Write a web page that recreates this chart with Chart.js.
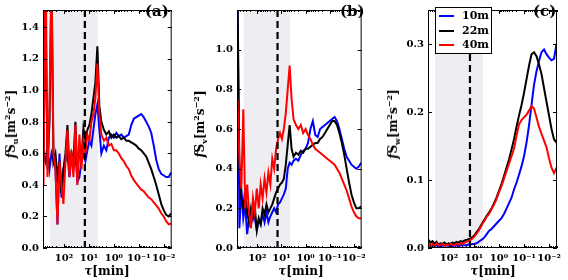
<!DOCTYPE html>
<html>
<head>
<meta charset="utf-8">
<script src="https://cdn.jsdelivr.net/npm/chart.js@4.4.0/dist/chart.umd.min.js"></script>
<style>
  body { margin: 0; background: #fff; }
  #wrap { position: relative; width: 568px; height: 280px; overflow: hidden;
          font-family: "DejaVu Serif", serif; font-weight: bold; color: #000; }
  canvas { position: absolute; top: 0; }
  .ytitle { position: absolute; top: 124px; font-size: 12px; white-space: nowrap;
            transform: translate(-50%, -50%) rotate(-90deg); }
  .xtitle { position: absolute; top: 264px; font-size: 12px; white-space: nowrap;
            transform: translateX(-50%); }
  sub, sup { font-size: 8px; line-height: 0; }
  .tag { position: absolute; top: 4px; font-size: 15px; line-height: 15px; }
  .legend { position: absolute; left: 435px; top: 7px; width: 57px; height: 47px;
            border: 1px solid #000; background: #fff; box-sizing: border-box; font-size: 11px; }
  .legend div { position: absolute; left: 3px; height: 14px; line-height: 14px; white-space: nowrap; }
  .legend span { display: inline-block; width: 15px; height: 2px; vertical-align: middle; margin-right: 8px; }
</style>
</head>
<body>
<div id="wrap">
  <canvas id="pa" width="180" height="280" style="left:0px"></canvas>
  <canvas id="pb" width="180" height="280" style="left:190px"></canvas>
  <canvas id="pc" width="188" height="280" style="left:380px"></canvas>

  <div class="ytitle" style="left:11px"><i>f</i>S<sub>u</sub>[m<sup>2</sup>s<sup>−2</sup>]</div>
  <div class="ytitle" style="left:200px"><i>f</i>S<sub>v</sub>[m<sup>2</sup>s<sup>−2</sup>]</div>
  <div class="ytitle" style="left:393px"><i>f</i>S<sub>w</sub>[m<sup>2</sup>s<sup>−2</sup>]</div>

  <div class="xtitle" style="left:107px"><i>τ</i>[min]</div>
  <div class="xtitle" style="left:301px"><i>τ</i>[min]</div>
  <div class="xtitle" style="left:493px"><i>τ</i>[min]</div>

  <div class="tag" style="left:145px">(a)</div>
  <div class="tag" style="left:340px">(b)</div>
  <div class="tag" style="left:533px">(c)</div>

  <div class="legend">
    <div style="top:1px"><span style="background:#0000ff"></span>10m</div>
    <div style="top:16px"><span style="background:#000"></span>22m</div>
    <div style="top:30px"><span style="background:#ff0000"></span>40m</div>
  </div>
</div>

<script>
// time scale (minutes), shared by all panels
const tauMin = [661, 550, 457, 380, 316, 263, 219, 182, 151, 126,
  105, 87.1, 72.4, 60.3, 50.1, 41.7, 34.7, 28.8, 24.0, 20.0,
  16.6, 13.8, 11.5, 9.55, 7.94, 6.61, 5.50, 4.57, 3.80, 3.16,
  2.51, 2.00, 1.58, 1.26, 1.00, 0.794, 0.631, 0.501, 0.398, 0.316,
  0.251, 0.200, 0.158, 0.126, 0.100, 0.0794, 0.0631, 0.0501, 0.0398, 0.0316,
  0.0251, 0.0200, 0.0158, 0.0126, 0.0100, 0.00794, 0.00631, 0.00501];

const xTicks = [100, 10, 1, 0.1, 0.01];
const shadeFrom = 363, shadeTo = 4.4;   // gray band (min)
const dashAt = 14.5;                     // dashed marker (min)

// (a) fS_u
const suBlue = [0.60, 0.55, 0.65, 0.50, 0.60, 0.55, 0.50, 0.15, 0.60, 0.32,
  0.50, 0.55, 0.60, 0.45, 0.58, 0.50, 0.60, 0.42, 0.45, 0.55,
  0.60, 0.55, 0.62, 0.68, 0.65, 0.75, 0.85, 0.91, 0.75, 0.60,
  0.65, 0.62, 0.70, 0.72, 0.70, 0.73, 0.71, 0.72, 0.70, 0.71,
  0.72, 0.78, 0.82, 0.83, 0.84, 0.85, 0.83, 0.80, 0.77, 0.73,
  0.65, 0.56, 0.50, 0.47, 0.46, 0.45, 0.45, 0.48];
const suBlack = [0.55, 1.60, 0.50, 0.80, 1.70, 0.55, 0.60, 0.45, 0.55, 0.35,
  0.50, 0.60, 0.78, 0.50, 0.60, 0.55, 0.80, 0.45, 0.65, 0.55,
  0.76, 0.68, 0.75, 0.78, 0.85, 0.95, 1.05, 1.28, 0.90, 0.80,
  0.75, 0.72, 0.74, 0.70, 0.72, 0.70, 0.71, 0.69, 0.70, 0.68,
  0.68, 0.67, 0.66, 0.65, 0.63, 0.62, 0.60, 0.58, 0.54, 0.50,
  0.45, 0.40, 0.34, 0.28, 0.24, 0.21, 0.20, 0.22];
const suRed = [0.40, 2.00, 0.45, 0.90, 1.80, 0.60, 0.50, 0.15, 0.55, 0.40,
  0.28, 0.55, 0.75, 0.45, 0.62, 0.45, 0.78, 0.40, 0.72, 0.50,
  0.68, 0.60, 0.72, 0.68, 0.80, 0.85, 0.95, 1.17, 0.85, 0.72,
  0.68, 0.70, 0.65, 0.66, 0.62, 0.62, 0.60, 0.57, 0.55, 0.52,
  0.50, 0.46, 0.43, 0.41, 0.39, 0.37, 0.36, 0.34, 0.32, 0.31,
  0.29, 0.27, 0.25, 0.22, 0.20, 0.17, 0.15, 0.155];

// (b) fS_v
const svBlue = [1.30, 0.10, 0.30, 0.15, 0.22, 0.07, 0.15, 0.12, 0.20, 0.15,
  0.09, 0.14, 0.12, 0.17, 0.13, 0.18, 0.13, 0.16, 0.18, 0.20,
  0.18, 0.22, 0.23, 0.25, 0.27, 0.30, 0.40, 0.43, 0.42, 0.44,
  0.45, 0.44, 0.47, 0.49, 0.50, 0.53, 0.60, 0.64, 0.57, 0.56,
  0.60, 0.61, 0.62, 0.63, 0.64, 0.65, 0.66, 0.64, 0.60, 0.55,
  0.50, 0.46, 0.44, 0.42, 0.41, 0.40, 0.41, 0.43];
const svBlack = [1.30, 0.40, 0.25, 0.20, 0.30, 0.18, 0.13, 0.20, 0.15, 0.20,
  0.09, 0.15, 0.12, 0.20, 0.17, 0.22, 0.18, 0.20, 0.22, 0.25,
  0.28, 0.30, 0.32, 0.33, 0.35, 0.42, 0.52, 0.62, 0.50, 0.46,
  0.48, 0.47, 0.49, 0.48, 0.50, 0.50, 0.51, 0.52, 0.53, 0.53,
  0.55, 0.56, 0.58, 0.60, 0.62, 0.64, 0.64, 0.62, 0.58, 0.53,
  0.47, 0.40, 0.33, 0.27, 0.23, 0.20, 0.20, 0.21];
const svRed = [0.75, 0.45, 0.30, 0.70, 0.20, 0.32, 0.18, 0.10, 0.25, 0.18,
  0.30, 0.20, 0.32, 0.25, 0.35, 0.28, 0.38, 0.32, 0.45, 0.40,
  0.50, 0.55, 0.58, 0.55, 0.60, 0.68, 0.80, 0.92, 0.75, 0.65,
  0.62, 0.60, 0.62, 0.58, 0.60, 0.57, 0.55, 0.52, 0.50, 0.49,
  0.48, 0.47, 0.46, 0.45, 0.44, 0.43, 0.42, 0.40, 0.38, 0.35,
  0.32, 0.29, 0.25, 0.21, 0.18, 0.16, 0.15, 0.15];

// (c) fS_w
const swBlue = [0.004, 0.003, 0.004, 0.003, 0.004, 0.003, 0.003, 0.004, 0.003, 0.004,
  0.003, 0.004, 0.003, 0.004, 0.004, 0.003, 0.004, 0.004, 0.004, 0.004,
  0.005, 0.005, 0.006, 0.006, 0.007, 0.009, 0.011, 0.013, 0.016, 0.020,
  0.025, 0.028, 0.032, 0.036, 0.040, 0.044, 0.050, 0.058, 0.066, 0.074,
  0.086, 0.096, 0.108, 0.120, 0.135, 0.155, 0.180, 0.210, 0.240, 0.260,
  0.275, 0.288, 0.292, 0.285, 0.280, 0.276, 0.278, 0.300];
const swBlack = [0.012, 0.008, 0.010, 0.006, 0.009, 0.005, 0.007, 0.006, 0.008, 0.005,
  0.007, 0.006, 0.008, 0.007, 0.009, 0.008, 0.010, 0.009, 0.011, 0.012,
  0.013, 0.014, 0.016, 0.019, 0.023, 0.027, 0.032, 0.037, 0.042, 0.047,
  0.052, 0.058, 0.066, 0.074, 0.084, 0.094, 0.106, 0.118, 0.130, 0.145,
  0.160, 0.178, 0.195, 0.210, 0.228, 0.248, 0.268, 0.285, 0.288, 0.282,
  0.270, 0.256, 0.235, 0.215, 0.195, 0.175, 0.160, 0.155];
const swRed = [0.008, 0.004, 0.006, 0.003, 0.007, 0.004, 0.005, 0.006, 0.003, 0.005,
  0.004, 0.006, 0.005, 0.004, 0.006, 0.005, 0.007, 0.006, 0.008, 0.009,
  0.010, 0.012, 0.014, 0.017, 0.021, 0.025, 0.030, 0.036, 0.040, 0.046,
  0.050, 0.057, 0.064, 0.072, 0.082, 0.091, 0.102, 0.113, 0.124, 0.135,
  0.146, 0.165, 0.182, 0.188, 0.192, 0.196, 0.202, 0.209, 0.205, 0.192,
  0.178, 0.168, 0.158, 0.148, 0.132, 0.118, 0.110, 0.118];

const tickFont = { family: 'DejaVu Serif', weight: 'bold', size: 10 };
const supDigits = { '-': '⁻', '0': '⁰', '1': '¹', '2': '²', '3': '³' };

function expLabel(v) {
    const e = String(Math.round(Math.log10(v)));
    return '10' + e.split('').map(c => supDigits[c]).join('');
}

// shaded band, dashed line, box and inward ticks
const framePlugin = {
    id: 'frame',
    beforeDatasetsDraw(chart) {
        const { ctx, chartArea: a, scales: { x } } = chart;
        const x1 = x.getPixelForValue(shadeFrom);
        const x2 = x.getPixelForValue(shadeTo);
        ctx.save();
        ctx.fillStyle = '#ededf2';
        ctx.fillRect(Math.min(x1, x2), a.top, Math.abs(x2 - x1), a.bottom - a.top);
        ctx.restore();
    },
    afterDatasetsDraw(chart) {
        const { ctx, chartArea: a, scales: { x, y } } = chart;
        ctx.save();
        // dashed marker
        const xd = x.getPixelForValue(dashAt);
        ctx.strokeStyle = '#000';
        ctx.lineWidth = 2.2;
        ctx.setLineDash([7, 4]);
        ctx.beginPath();
        ctx.moveTo(xd, a.top);
        ctx.lineTo(xd, a.bottom);
        ctx.stroke();
        ctx.setLineDash([]);

        // box
        ctx.lineWidth = 1;
        ctx.strokeRect(a.left + 0.5, a.top + 0.5, a.right - a.left - 1, a.bottom - a.top - 1);

        // x ticks, top and bottom
        ctx.beginPath();
        for (let n = -3; n <= 3; n++) {
            for (let k = 1; k <= 9; k++) {
                const v = k * Math.pow(10, n);
                if (v < x.min || v > x.max) continue;
                const px = Math.round(x.getPixelForValue(v)) + 0.5;
                const len = k === 1 ? 4 : 2;
                ctx.moveTo(px, a.bottom); ctx.lineTo(px, a.bottom - len);
                ctx.moveTo(px, a.top); ctx.lineTo(px, a.top + len);
            }
        }
        // y ticks, left and right
        y.ticks.forEach(t => {
            const py = Math.round(y.getPixelForValue(t.value)) + 0.5;
            ctx.moveTo(a.left, py); ctx.lineTo(a.left + 4, py);
            ctx.moveTo(a.right, py); ctx.lineTo(a.right - 4, py);
        });
        ctx.stroke();
        ctx.restore();
    }
};

function makePanel(id, blue, black, red, yMax, yStep, yTop, axisW, padRight) {
    const pts = arr => arr.map((v, i) => ({ x: tauMin[i], y: v }));
    return new Chart(document.getElementById(id), {
        type: 'line',
        data: {
            datasets: [
                { label: '10m', data: pts(blue), borderColor: '#0000ff', order: 3 },
                { label: '22m', data: pts(black), borderColor: '#000000', order: 2 },
                { label: '40m', data: pts(red), borderColor: '#ff0000', order: 1 }
            ]
        },
        options: {
            responsive: false,
            animation: false,
            events: [],
            layout: { padding: { top: 1, right: padRight, left: 0, bottom: 0 } },
            elements: {
                point: { radius: 0 },
                line: { borderWidth: 2, tension: 0, fill: false }
            },
            plugins: { legend: { display: false }, tooltip: { enabled: false } },
            scales: {
                x: {
                    type: 'logarithmic',
                    reverse: true,
                    min: 0.00479,
                    max: 692,
                    grid: { display: false, drawTicks: false },
                    border: { display: false },
                    afterBuildTicks: s => { s.ticks = xTicks.map(v => ({ value: v })); },
                    afterFit: s => { s.height = 32; },
                    ticks: {
                        autoSkip: false, maxRotation: 0, padding: 4,
                        color: '#000', font: tickFont,
                        callback: v => expLabel(v)
                    }
                },
                y: {
                    type: 'linear',
                    min: 0,
                    max: yMax,
                    grid: { display: false, drawTicks: false },
                    border: { display: false },
                    afterBuildTicks: s => { s.ticks = s.ticks.filter(t => t.value <= yTop + 1e-9); },
                    afterFit: s => { s.width = axisW; },
                    ticks: {
                        stepSize: yStep, includeBounds: false, padding: 4,
                        color: '#000', font: tickFont,
                        callback: v => v.toFixed(1)
                    }
                }
            }
        },
        plugins: [framePlugin]
    });
}

makePanel('pa', suBlue, suBlack, suRed, 1.51, 0.2, 1.4, 43, 8);
makePanel('pb', svBlue, svBlack, svRed, 1.2, 0.2, 1.0, 47, 5);
makePanel('pc', swBlue, swBlack, swRed, 0.35, 0.1, 0.3, 48, 11);
</script>
</body>
</html>
